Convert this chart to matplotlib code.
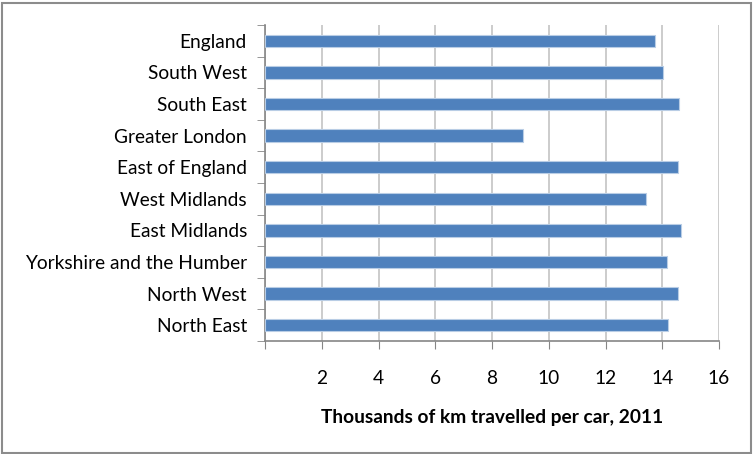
import matplotlib.pyplot as plt
from matplotlib.patches import Rectangle
import numpy as np

plt.rcParams['font.family'] = ['Lato', 'DejaVu Sans']

regions = ['North East', 'North West', 'Yorkshire and the Humber', 'East Midlands',
           'West Midlands', 'East of England', 'Greater London', 'South East',
           'South West', 'England']
km_per_car = [14.21, 14.56, 14.15, 14.65, 13.42, 14.56, 9.09, 14.59, 14.02, 13.75]
x_ticks = [0, 2, 4, 6, 8, 10, 12, 14, 16]
x_tick_labels = ['', '2', '4', '6', '8', '10', '12', '14', '16']

fig = plt.figure(figsize=(7.53, 4.54), dpi=100)
ax = fig.add_axes([265/753, 1 - 341/454, (719 - 265)/753, (341 - 25)/454])

# outer chart border
fig.patches.append(Rectangle((1.5/753, 1.5/454), 749/753, 450/454,
                             transform=fig.transFigure, fill=False,
                             edgecolor='#8c8c8c', linewidth=1.5))

pos = np.arange(len(regions))
ax.barh(pos, km_per_car, height=0.39, color='#4f81bd', edgecolor='#b9cde5',
        linewidth=0.8, zorder=3)

ax.set_xlim(0, 16)
ax.set_ylim(-0.5, len(regions) - 0.5)

ax.set_xticks(x_ticks)
ax.set_xticklabels(x_tick_labels, fontsize=13.8)
ax.tick_params(axis='x', length=6, color='#868686', pad=15)
ax.grid(axis='x', color='#c4c4c4', linewidth=1.2, zorder=0)

ax.set_yticks(pos)
ax.set_yticklabels(regions, fontsize=13.8)
ax.set_yticks(np.arange(-0.5, len(regions)), minor=True)
ax.tick_params(axis='y', which='major', length=0, pad=13)
ax.tick_params(axis='y', which='minor', length=6, color='#868686')

for side in ['top', 'right']:
    ax.spines[side].set_visible(False)
for side in ['left', 'bottom']:
    ax.spines[side].set_color('#868686')
    ax.spines[side].set_linewidth(1.2)

ax.set_xlabel('Thousands of km travelled per car, 2011', fontsize=13.8,
              fontweight='bold', labelpad=16)

fig.savefig('out.png', dpi=100)
